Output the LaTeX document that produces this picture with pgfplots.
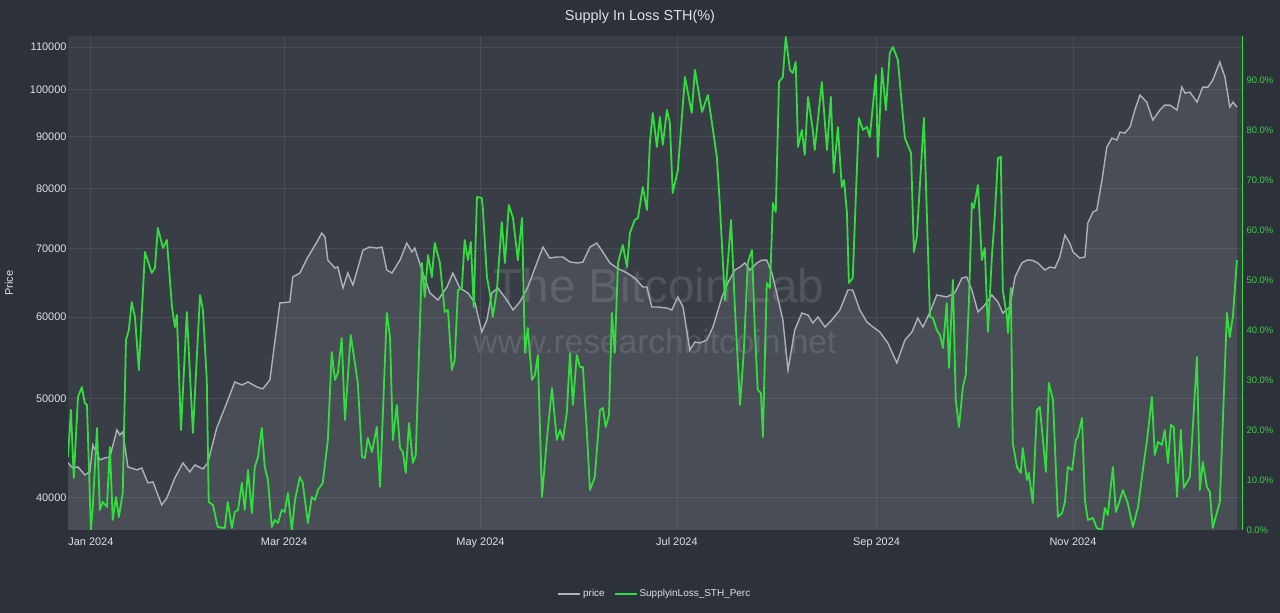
\documentclass[border=0pt]{standalone}
\usepackage{pgfplots}
\pgfplotsset{compat=1.18}
\usepackage{pgfplotstable}
\usepackage{fontspec}
\setmainfont{Liberation Sans}
\definecolor{bgout}{RGB}{44,49,58}
\definecolor{bgplot}{RGB}{56,61,70}
\definecolor{gridc}{RGB}{72,77,86}
\definecolor{pricec}{RGB}{172,177,187}
\definecolor{greenc}{RGB}{50,222,62}
\definecolor{greenl}{RGB}{60,205,72}
\definecolor{textc}{RGB}{222,225,230}

\pgfplotstableread{
day price
-7.1 43270
-5.6 42780
-4.0 42880
-1.9 42120
-0.3 42400
0.6 45050
2.8 43560
4.3 43750
5.9 43850
8.1 46590
9.0 46070
9.9 46380
11.5 42880
14.3 42590
15.8 42780
17.7 41370
19.3 41460
22.0 39380
23.6 40000
26.1 41840
28.6 43270
30.7 42400
32.3 43070
34.8 42690
36.3 43270
39.1 46800
42.2 49500
44.7 51880
46.9 51540
48.8 51880
51.6 51300
53.4 51080
55.6 52120
58.7 61940
61.8 62080
62.7 65660
64.9 66250
67.4 68670
70.2 71010
71.7 72460
72.7 71820
73.6 68200
75.8 66990
76.7 67140
78.3 64050
79.8 66250
81.4 64490
84.5 69750
86.6 70220
88.8 70060
90.4 70220
91.9 66690
93.5 66250
96.0 68200
98.1 70850
99.7 69440
100.6 70060
102.8 66690
105.3 63340
107.8 62350
110.6 64200
112.4 66250
114.6 64050
117.1 63340
119.3 61940
121.4 58040
123.0 59620
124.5 63340
126.4 64050
129.2 62350
131.1 60970
133.2 62080
135.7 64200
138.5 67750
140.4 70220
142.5 68510
144.7 68670
146.6 68670
148.8 67900
151.2 67750
152.8 67900
155.0 70220
157.1 70850
159.0 69440
161.2 67750
163.4 66990
166.5 66250
169.0 65500
171.4 64200
172.7 64200
174.2 61380
176.1 61380
178.9 61240
180.4 60970
182.3 62780
183.9 61380
186.0 55740
187.6 56750
189.1 56620
191.3 57000
193.2 58690
196.0 62780
197.8 64780
200.0 66690
201.6 67140
203.1 67750
204.7 66690
206.8 67750
208.4 68200
209.9 68200
211.5 66250
213.0 63340
214.9 59620
216.5 53300
218.6 58300
220.8 60560
222.7 60290
224.2 59220
225.8 60020
228.0 58690
230.1 59620
232.6 60970
235.1 63770
236.6 63770
238.8 60970
241.0 59350
242.9 58690
245.0 58040
247.5 56620
250.3 54140
252.8 57000
255.0 58040
256.8 59890
258.4 58690
260.6 60700
262.7 63060
265.8 62780
268.3 63340
270.5 65500
272.0 65660
273.6 63770
275.5 60700
277.6 61660
279.8 63060
281.7 62080
283.2 60560
285.4 61380
287.0 65660
289.1 67750
290.7 68200
292.2 68200
294.1 67750
296.3 66690
297.8 67140
299.4 66990
300.9 68670
302.5 72140
304.0 70850
305.0 69440
307.1 68510
308.7 68670
309.6 74100
311.2 75960
312.4 76300
314.0 81600
315.5 87870
317.1 89660
318.6 89260
319.6 90880
321.1 90680
322.7 91900
324.2 95480
325.8 98740
327.9 97200
329.8 93350
332.0 95480
333.5 96550
335.1 96550
337.3 95480
338.8 100520
339.8 99180
341.3 99400
343.5 97200
345.3 100520
346.9 100520
348.4 102120
350.6 106320
352.2 102800
353.7 96120
354.7 97200
355.9 96120
}\pricetable

\pgfplotstableread{
day pct
-7.1 14.6
-6.2 24
-5.3 10.4
-4.0 26.6
-2.8 28.6
-1.9 25.4
-1.2 25
0.0 0
0.6 4.6
1.9 20.4
2.8 4
3.7 5.6
5.0 4.6
5.9 16.6
6.8 2
7.8 6.6
8.7 2.6
9.9 7.4
10.9 38
11.8 40
12.7 45.6
13.7 42.6
14.9 32
16.8 55.6
18.9 51.4
19.9 52.4
20.8 60.4
22.4 56.4
23.6 58
25.2 44.6
26.1 40.6
26.7 43
28.0 20
29.8 43.6
31.7 19.4
33.9 47
34.8 44
36.0 30
36.6 5.6
37.9 5
39.4 0.6
41.6 0.4
42.5 5.6
43.8 0.4
44.7 3.6
45.7 4
46.9 9.4
47.8 4
48.8 12
50.0 3.4
50.9 12.6
51.9 14.6
53.1 20.4
54.0 12.6
55.0 10
56.2 0.6
57.1 2
58.1 1.4
59.3 4
60.2 3.6
61.2 7.4
62.4 0
63.4 6
64.9 10.6
65.8 9.4
67.4 1.4
68.6 6.6
69.6 6
70.5 8
72.0 9.4
73.6 18
74.8 35.6
75.8 30
76.7 31.4
77.9 38.4
78.9 22
80.7 39
82.0 33.4
82.9 29.4
84.2 14.6
85.1 14.4
86.0 18.4
87.3 15.6
88.8 20.6
89.8 8.6
91.9 43.4
92.9 38.6
93.8 18
95.0 25
96.0 16.4
96.9 15.6
97.8 11.4
98.8 21.4
100.0 13.4
100.9 15
102.8 53.4
103.7 46.6
104.7 55
105.9 50.6
106.8 57.4
108.4 53.4
109.9 43.6
110.9 44
112.1 32
113.0 34
114.0 48
115.2 48.4
116.1 58
117.1 54
118.0 57.6
118.9 44.6
119.9 66.6
121.4 66.4
121.7 64.6
123.0 50.6
123.9 47.4
124.8 42.6
126.1 48
127.6 61.6
128.6 53.4
129.8 65
131.1 62.4
132.6 54
133.9 62.4
134.8 35.4
135.7 40.4
137.0 30
137.9 31
138.8 35
140.1 6.6
141.6 18
143.2 28.4
144.7 18
145.7 20
146.6 18
147.8 23.4
148.8 35.4
149.7 25
150.9 35
151.9 32.6
152.8 32.6
154.0 20
155.0 8
156.5 10.6
158.1 24
159.0 24.4
159.9 20.6
160.9 23
161.8 43.4
162.7 35.4
163.7 53.4
165.2 57
166.5 52.6
167.4 59.4
168.9 62
169.9 62.4
171.4 68.6
172.7 64
173.6 77.4
174.5 83.4
175.8 76.6
176.7 82.6
177.6 77
178.9 84
179.8 81.4
180.7 67.4
182.3 72
184.5 90.6
186.6 83.4
187.6 92
189.8 83.6
191.6 87
193.2 80
194.4 74.6
195.3 65.4
196.9 46
197.8 53.4
198.8 62
200.0 44.6
201.6 25
202.8 36
204.0 53.4
205.3 56
206.2 40
207.1 28
208.1 27.4
208.7 18.6
209.9 49.4
210.9 48.4
211.8 65.4
212.7 63.6
213.7 89.6
214.9 90.6
215.8 98.6
217.1 92
218.0 91.4
218.9 93.6
219.6 76.6
220.8 80
221.7 75
222.7 86.6
224.2 80
224.8 76
227.0 89.6
228.6 76
229.8 86.6
230.7 71.4
232.0 80.6
233.2 68.6
233.9 70
234.8 63.4
235.4 49.4
236.6 50.4
238.5 82.4
239.8 80
241.0 80.6
241.9 78.6
243.8 91
244.4 74.6
245.7 92.4
246.9 84
248.1 95.4
249.1 96.6
250.6 94
252.8 78.4
254.7 75.4
255.6 55.6
256.5 58.6
258.7 82.4
260.6 42.6
261.5 42.4
262.7 40
263.7 39
264.6 36.4
265.8 45.4
266.5 32.4
267.7 50
268.6 26
269.6 20.6
270.8 28.6
271.7 31
272.7 46
273.6 65.4
274.2 64.4
275.5 69
276.7 54
277.6 56.4
278.6 39.6
279.8 54.6
280.7 62.6
281.7 74.4
282.6 74.6
283.2 48
284.5 42.6
284.8 39.4
285.7 48.4
286.3 17.4
287.6 12.6
288.8 11.4
289.4 16.4
290.7 10
291.3 11.4
292.5 5.4
293.8 24
294.7 24.6
296.6 11.6
297.5 29.4
298.8 26
300.3 2.6
301.6 3.4
302.5 5.6
303.4 12.6
304.7 12
305.9 18
306.5 18.6
307.8 22.4
308.7 6
309.6 2
311.2 2.4
312.4 0.4
314.0 0
314.9 4.4
315.8 3
317.4 12.6
318.3 3.6
319.3 5.4
320.5 8
322.0 5.4
323.6 0.6
325.2 4.6
326.7 12
328.0 18
329.5 26.6
330.4 15
331.4 17.6
332.6 17
333.5 20
334.5 13.4
335.4 21
336.3 20.6
337.3 6.6
338.5 20
339.4 8.4
341.3 10.6
343.5 34.6
344.4 8
345.3 13.6
346.6 8.6
347.5 7.6
348.4 0.4
350.6 5.6
352.8 43.4
353.7 38.6
354.7 43
355.9 54
}\greentable

\begin{document}
\begin{tikzpicture}[x=1bp,y=1bp]
\fill[bgout] (0,0) rectangle (1280,613);
\fill[bgplot] (68,83) rectangle (1242,577);
% watermark
\node[text=white, text opacity=0.12, font=\fontsize{47.8}{50}\selectfont, inner sep=0] at (659,328) {The Bitcoin Lab};
\node[text=white, text opacity=0.12, font=\fontsize{33.6}{36}\selectfont, inner sep=0] at (655,271) {www.researchbitcoin.net};

\begin{axis}[
  at={(68bp,83bp)}, anchor=south west, scale only axis,
  width=1174bp, height=494bp,
  xmin=-7.1, xmax=357.5,
  ymode=log, ymin=37230, ymax=112750,
  xtick={0,60,121,182,244,305},
  xticklabels={Jan 2024,Mar 2024,May 2024,Jul 2024,Sep 2024,Nov 2024},
  ytick={40000,50000,60000,70000,80000,90000,100000,110000},
  yticklabels={40000,50000,60000,70000,80000,90000,100000,110000},
  minor ytick={},
  major tick length=0pt,
  axis line style={draw=none},
  xmajorgrids, ymajorgrids,
  grid style={gridc, line width=0.8bp},
  tick label style={text=textc, font=\fontsize{11}{13}\selectfont},
  xticklabel style={yshift=-4bp},
  yticklabel style={xshift=2bp},
  ylabel={Price},
  ylabel style={at={(axis description cs:-0.0503,0.5)}, anchor=center, text=textc, font=\fontsize{11}{13}\selectfont},
  /pgf/number format/assume math mode=true,
]
\addplot[draw=none, fill=white, fill opacity=0.085] table[x=day,y=price]{\pricetable} \closedcycle;
\addplot[pricec, line width=1.4bp] table[x=day,y=price]{\pricetable};
\end{axis}

\begin{axis}[
  at={(68bp,83bp)}, anchor=south west, scale only axis,
  width=1174bp, height=494bp,
  xmin=-7.1, xmax=357.5,
  ymin=0, ymax=98.8,
  axis y line*=right, axis x line=none,
  y axis line style={greenc, line width=1bp, -},
  ytick={0,10,20,30,40,50,60,70,80,90},
  yticklabel={\pgfmathprintnumber[fixed,fixed zerofill,precision=1]{\tick}\%},
  yticklabel style={text=greenl, font=\fontsize{9.5}{11}\selectfont, xshift=1bp},
  major tick length=0pt,
  /pgf/number format/assume math mode=true,
  legend style={at={(0.5,-0.1295)}, anchor=center, draw=none, fill=none,
    text=textc, font=\fontsize{10}{12}\selectfont, legend columns=2,
    /tikz/every even column/.append style={column sep=7bp}},
  legend image code/.code={\draw[#1] (0bp,0bp) -- (22bp,0bp);},
]
\addlegendimage{pricec, line width=1.4bp}
\addlegendentry{price}
\addplot[greenc, line width=1.8bp, line join=round] table[x=day,y=pct]{\greentable};
\addlegendentry{SupplyinLoss\_STH\_Perc}
\end{axis}

\node[text=textc, font=\fontsize{14.5}{16}\selectfont] at (640,596) {Supply In Loss STH(\%)};
\pgfresetboundingbox
\useasboundingbox (0,0) rectangle (1280,613);
\end{tikzpicture}
\end{document}
